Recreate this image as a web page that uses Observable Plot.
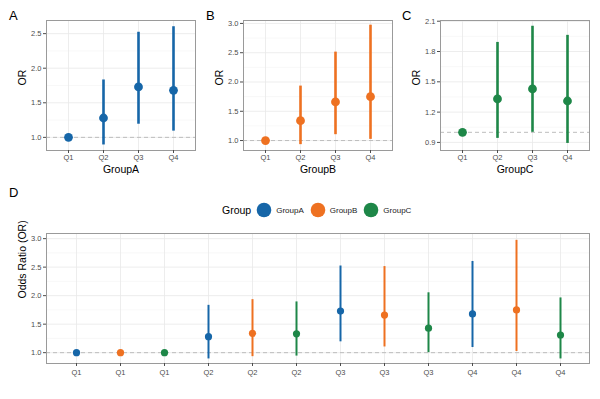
<!DOCTYPE html>
<html><head><meta charset="utf-8">
<script src="https://cdn.jsdelivr.net/npm/d3@7"></script>
<script src="https://cdn.jsdelivr.net/npm/@observablehq/plot@0.6"></script>
<style>
body{margin:0;background:#fff;font-family:"Liberation Sans",Arial,sans-serif;}
#wrap{position:relative;width:600px;height:399px;overflow:hidden;background:#fff;}
.panel{position:absolute;}
.tag{position:absolute;font-size:13px;color:#000;line-height:1;}
#legend{position:absolute;left:222px;top:202px;display:flex;align-items:center;font-size:8px;color:#1a1a1a;}
#legend .ttl{font-size:10.5px;color:#000;margin-right:5px;}
#legend .item{display:flex;align-items:center;margin-right:6px;}
#legend svg{margin-right:4px;}
</style></head><body><div id="wrap"></div>
<script>
const quartiles = ["Q1","Q2","Q3","Q4"];
const groups = ["GroupA","GroupB","GroupC"];
const groupColors = ["#1666a8","#ee7121","#1e8748"];

const orA   = [1.00, 1.28, 1.73, 1.68];
const lowA  = [1.00, 0.89, 1.19, 1.09];
const highA = [1.00, 1.83, 2.52, 2.60];

const orB   = [1.00, 1.34, 1.66, 1.75];
const lowB  = [1.00, 0.93, 1.10, 1.02];
const highB = [1.00, 1.93, 2.51, 2.97];

const orC   = [1.00, 1.33, 1.43, 1.31];
const lowC  = [1.00, 0.94, 1.00, 0.89];
const highC = [1.00, 1.89, 2.05, 1.96];

const ticksA = [1.0, 1.5, 2.0, 2.5];
const ticksB = [1.0, 1.5, 2.0, 2.5, 3.0];
const ticksC = [0.9, 1.2, 1.5, 1.8, 2.1];
const ticksD = [1.0, 1.5, 2.0, 2.5, 3.0];

const groupData = {
  GroupA: {or: orA, low: lowA, high: highA},
  GroupB: {or: orB, low: lowB, high: highB},
  GroupC: {or: orC, low: lowC, high: highC}
};

function rows(g) {
  const d = groupData[g];
  return quartiles.map((q, i) => ({q, group: g, key: q + "-" + g, or: d.or[i], low: d.low[i], high: d.high[i]}));
}
function minors(t) {
  const s = t[1] - t[0];
  const out = [];
  for (let i = -1; i < t.length; i++) out.push(+(t[0] + s * i + s / 2).toFixed(4));
  return out;
}

const wrap = document.getElementById("wrap");
const font = '"Liberation Sans", Arial, sans-serif';

function panel({data, xField, xDomain, xFormat, yDomain, yTicks, xLabel, yLabel, width, height, margin, r, sw, tickPad, xTitleDy, yTitleDx, titleSize}) {
  return Plot.plot({
    width, height,
    marginLeft: margin[3], marginRight: margin[1], marginTop: margin[0], marginBottom: margin[2],
    style: {fontFamily: font, background: "transparent", overflow: "visible"},
    x: {type: "point", domain: xDomain, padding: 0.6},
    y: {domain: yDomain},
    color: {domain: groups, range: groupColors},
    marks: [
      Plot.gridY(minors(yTicks).filter(v => v > yDomain[0] && v < yDomain[1]), {stroke: "#f3f3f3", strokeOpacity: 1, strokeWidth: 0.6}),
      Plot.gridY(yTicks, {stroke: "#e9e9e9", strokeOpacity: 1, strokeWidth: 0.8}),
      Plot.gridX(xDomain, {stroke: "#e9e9e9", strokeOpacity: 1, strokeWidth: 0.8}),
      Plot.ruleY([1], {stroke: "#bdbdbd", strokeWidth: 1, strokeDasharray: "4,3"}),
      Plot.ruleX(data, {x: xField, y1: "low", y2: "high", stroke: "group", strokeWidth: sw}),
      Plot.dot(data, {x: xField, y: "or", fill: "group", r, stroke: null}),
      Plot.frame({stroke: "#9a9a9a", strokeWidth: 1}),
      Plot.axisY({ticks: yTicks, tickFormat: d3.format(".1f"), tickSize: 3, tickPadding: 2, label: null, fontSize: 7.5, fill: "#4d4d4d", stroke: "#4d4d4d"}),
      Plot.axisX({ticks: xDomain, tickFormat: xFormat, tickSize: 3, tickPadding: tickPad, label: null, fontSize: 7.5, fill: "#4d4d4d", stroke: "#4d4d4d"}),
      Plot.text([yLabel], {frameAnchor: "left", rotate: -90, dx: yTitleDx, fontSize: titleSize, fill: "#000", fontFamily: font}),
      xLabel ? Plot.text([xLabel], {frameAnchor: "bottom", dy: xTitleDy, fontSize: titleSize, fill: "#000", fontFamily: font}) : null
    ]
  });
}

function place(el, left, top) {
  el.classList.add("panel");
  el.style.left = left + "px";
  el.style.top = top + "px";
  wrap.appendChild(el);
}
function tag(t, left, top) {
  const d = document.createElement("div");
  d.className = "tag";
  d.textContent = t;
  d.style.left = left + "px";
  d.style.top = top + "px";
  wrap.appendChild(d);
}

const small = [
  {g: "GroupA", left: 0, dom: [0.81, 2.69], ticks: ticksA},
  {g: "GroupB", left: 197, dom: [0.83, 3.05], ticks: ticksB},
  {g: "GroupC", left: 394, dom: [0.82, 2.107], ticks: ticksC}
];
small.forEach(p => {
  const el = panel({
    data: rows(p.g), xField: "q", xDomain: quartiles, xFormat: d => d,
    yDomain: p.dom, yTicks: p.ticks, xLabel: p.g, yLabel: "OR",
    width: 200, height: 180, margin: [20, 5, 30, 46], r: 4.4, sw: 2.6,
    tickPad: 1.5, xTitleDy: 22, yTitleDx: -24, titleSize: 10.5
  });
  place(el, p.left, 0);
});
tag("A", 9, 9);
tag("B", 206, 9);
tag("C", 402, 9);
tag("D", 9, 186);

// Panel D
const dData = [];
quartiles.forEach((q, i) => groups.forEach(g => {
  const d = groupData[g];
  dData.push({q, group: g, key: q + "-" + g, or: d.or[i], low: d.low[i], high: d.high[i]});
}));
const dKeys = dData.map(d => d.key);
const elD = panel({
  data: dData, xField: "key", xDomain: dKeys, xFormat: d => d.split("-")[0],
  yDomain: [0.81, 3.09], yTicks: ticksD, xLabel: null, yLabel: "Odds Ratio (OR)",
  width: 600, height: 174, margin: [8, 11, 36, 46], r: 3.6, sw: 2,
  tickPad: 3, xTitleDy: 0, yTitleDx: -24, titleSize: 10.5
});
place(elD, 0, 225);

// Legend
const lg = document.createElement("div");
lg.id = "legend";
const tt = document.createElement("span");
tt.className = "ttl";
tt.textContent = "Group";
lg.appendChild(tt);
groups.forEach((g, i) => {
  const it = document.createElement("span");
  it.className = "item";
  it.innerHTML = `<svg width="16" height="16"><circle cx="8" cy="8" r="7.3" fill="${groupColors[i]}"></circle></svg><span>${g}</span>`;
  lg.appendChild(it);
});
wrap.appendChild(lg);
</script>
</body></html>
